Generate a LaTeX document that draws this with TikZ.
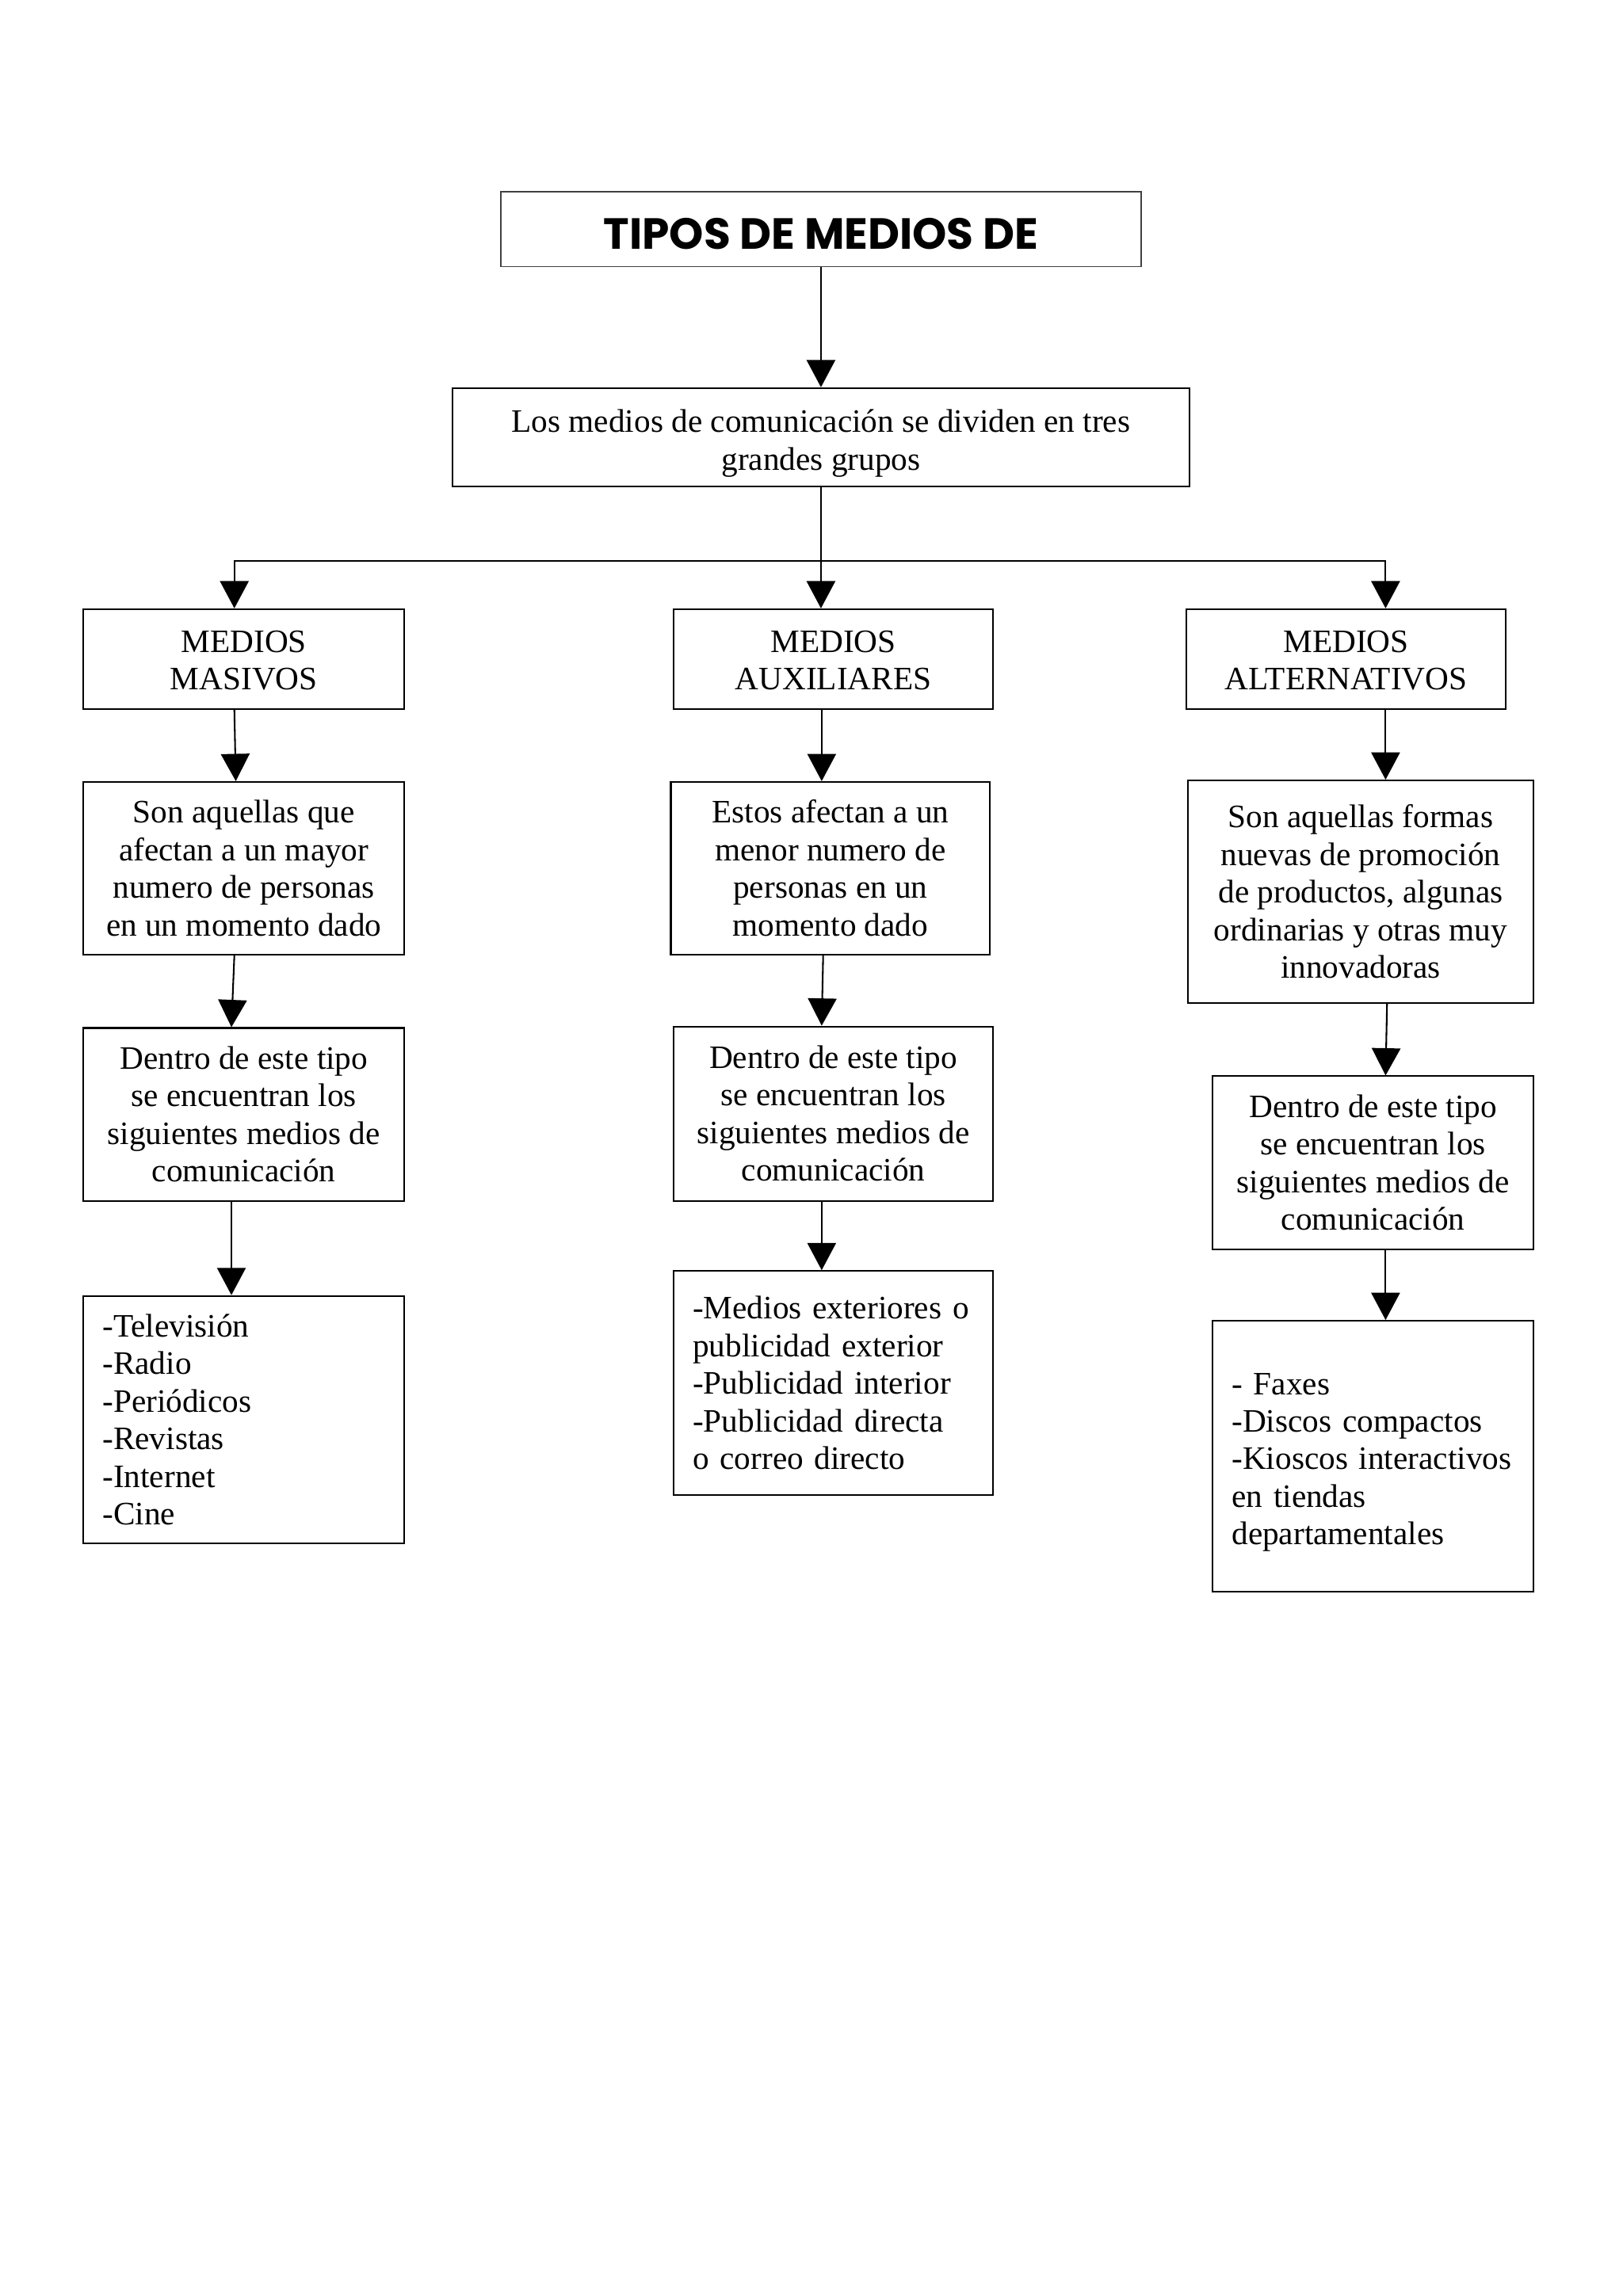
\documentclass[tikz,border=0pt]{standalone}
\usepackage{fontspec}
\setmainfont{Liberation Serif}
\newfontfamily\titlefont{Poppins}
\usetikzlibrary{arrows.meta}
\newdimen\px \px=0.5373pt
\newcommand{\ctxt}[2][2.5]{\raisebox{-#1\px}[\height][\depth]{\begin{tabular}{@{}c@{}}#2\end{tabular}}}
\newcommand{\ltxt}[2][2.5]{\raisebox{-#1\px}[\height][\depth]{\begin{tabular}{@{}l@{}}#2\end{tabular}}}
\tikzset{
  box/.style={draw, line width=0.6pt, inner sep=0pt, font=\fontsize{12}{13.8}\selectfont, align=center},
  listbox/.style={box, align=left, inner xsep=13\px},
  arr/.style={line width=0.6pt, -{Triangle[width=10.5pt,length=10pt]}},
  conn/.style={line width=0.6pt},
}
\begin{document}
\begin{tikzpicture}[x=0.5373pt, y=-0.5373pt]
\useasboundingbox (0,0) rectangle (1108,1568);
% top
\node[box, minimum width=437\px, minimum height=51\px, line width=0.5pt, draw=black!75] (title) at (560.5,156.5)
  {\raisebox{-3\px}[\height][\depth]{\titlefont\bfseries\fontsize{16}{18}\selectfont TIPOS DE MEDIOS DE}};
\node[box, minimum width=503\px, minimum height=67\px] (intro) at (560.5,298.5)
  {\ctxt[4.5]{Los medios de comunicación se dividen en tres\\grandes grupos}};
% row 1
\node[box, minimum width=219\px, minimum height=68\px] (mas) at (166.5,450) {\ctxt[3]{MEDIOS\\MASIVOS}};
\node[box, minimum width=218\px, minimum height=68\px] (aux) at (569,450) {\ctxt[3]{MEDIOS\\AUXILIARES}};
\node[box, minimum width=218\px, minimum height=68\px] (alt) at (919,450) {\ctxt[3]{MEDIOS\\ALTERNATIVOS}};
% row 2
\node[box, minimum width=219\px, minimum height=118\px] (mas2) at (166.5,593)
  {\ctxt{Son aquellas que\\afectan a un mayor\\numero de personas\\en un momento dado}};
\node[box, minimum width=218\px, minimum height=118\px] (aux2) at (567,593)
  {\ctxt{Estos afectan a un\\menor numero de\\personas en un\\momento dado}};
\node[box, minimum width=236\px, minimum height=152\px] (alt2) at (929,609)
  {\ctxt{Son aquellas formas\\nuevas de promoción\\de productos, algunas\\ordinarias y otras muy\\innovadoras}};
% row 3
\node[box, minimum width=219\px, minimum height=118\px] (mas3) at (166.5,761)
  {\ctxt{Dentro de este tipo\\se encuentran los\\siguientes medios de\\comunicación}};
\node[box, minimum width=218\px, minimum height=119\px] (aux3) at (569,760.5)
  {\ctxt{Dentro de este tipo\\se encuentran los\\siguientes medios de\\comunicación}};
\node[box, minimum width=219\px, minimum height=118\px] (alt3) at (937.5,794)
  {\ctxt{Dentro de este tipo\\se encuentran los\\siguientes medios de\\comunicación}};
% row 4
\node[listbox, text width=193\px, minimum height=169\px] (mas4) at (166.5,969.5)
  {\ltxt{-Televisión\\-Radio\\-Periódicos\\-Revistas\\-Internet\\-Cine}};
\node[listbox, text width=192\px, minimum height=153\px] (aux4) at (569,944.5)
  {\ltxt{-Medios exteriores o\\publicidad exterior\\-Publicidad interior\\-Publicidad directa\\o correo directo}};
\node[listbox, text width=193\px, minimum height=185\px] (alt4) at (937.5,994.5)
  {\ltxt[4]{- Faxes\\-Discos compactos\\-Kioscos interactivos\\en tiendas\\departamentales}};
% connectors
\draw[arr] (title.south) -- (intro.north);
\coordinate (j) at (560.5,383);
\draw[conn] (intro.south) -- (j);
\draw[arr] (j) -| ([xshift=-6.5\px]mas.north);
\draw[arr] (j) -| ([xshift=27\px]alt.north);
\draw[arr] (j) -- (j |- aux.north);
\draw[arr] ([xshift=-6.5\px]mas.south) -- ([xshift=-5.5\px]mas2.north);
\draw[arr] ([xshift=-6.5\px]mas2.south) -- ([xshift=-8.5\px]mas3.north);
\draw[arr] ([xshift=-8.5\px]mas3.south) -- ([xshift=-8.5\px]mas4.north);
\draw[arr] ([xshift=-8\px]aux.south) -- ([xshift=-6\px]aux2.north);
\draw[arr] ([xshift=-5\px]aux2.south) -- ([xshift=-8\px]aux3.north);
\draw[arr] ([xshift=-8\px]aux3.south) -- ([xshift=-8\px]aux4.north);
\draw[arr] ([xshift=27\px]alt.south) -- ([xshift=17\px]alt2.north);
\draw[arr] ([xshift=18\px]alt2.south) -- ([xshift=8.5\px]alt3.north);
\draw[arr] ([xshift=8.5\px]alt3.south) -- ([xshift=8.5\px]alt4.north);
\end{tikzpicture}
\end{document}
